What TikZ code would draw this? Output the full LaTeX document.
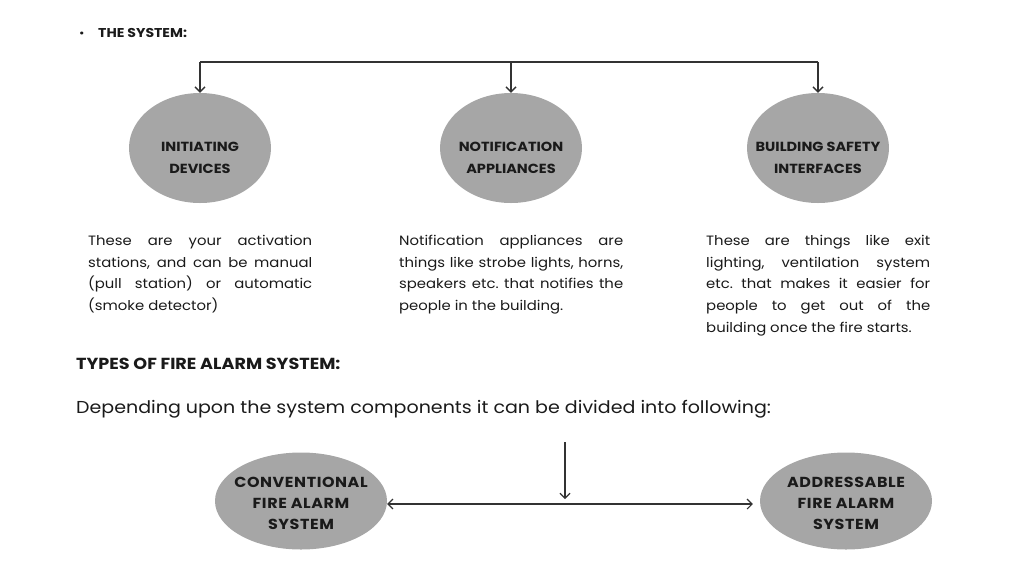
\documentclass[tikz,border=0pt]{standalone}
\usepackage{fontspec}
\setmainfont{Poppins}[FakeStretch=1.1]
\newfontfamily\spaced{Poppins}[FakeStretch=1.1,LetterSpace=4]
\usetikzlibrary{arrows.meta,shapes.geometric}
\definecolor{ellfill}{HTML}{A6A6A6}
\definecolor{ink}{HTML}{1A1A1A}
\definecolor{linec}{HTML}{333333}
\frenchspacing
\begin{document}
\begin{tikzpicture}[x=1pt,y=-1pt,
  ell/.style={ellipse, fill=ellfill, draw=none, inner sep=0pt,
    minimum width=142pt, minimum height=110pt},
  elltext/.style={align=center, text=ink, inner sep=0pt, yshift=-10pt,
    font=\bfseries\fontsize{13.2}{22}\selectfont},
  bell/.style={ellipse, fill=ellfill, draw=none, inner sep=0pt,
    minimum width=172pt, minimum height=97pt},
  belltext/.style={align=center, text=ink, inner sep=0pt, yshift=-2pt,
    font=\spaced\bfseries\fontsize{14.5}{21}\selectfont},
  para/.style={anchor=north west, text width=224pt, align=justify, inner sep=0pt,
    text=ink, font=\fontsize{13.5}{21.7}\selectfont},
  heading/.style={anchor=base west, inner sep=0pt, text=ink},
  conn/.style={draw=linec, line width=1.4pt},
  tipv/.style={-{Straight Barb[length=5pt,width=10pt]}},
  tipvv/.style={{Straight Barb[length=5pt,width=10pt]}-{Straight Barb[length=5pt,width=10pt]}}
]
\useasboundingbox (0,0) rectangle (1024,576);

% title
\node[heading, font=\fontsize{12}{14}\selectfont] (bul) at (79,37) {\textbullet};
\node[heading, font=\bfseries\fontsize{12.8}{14}\selectfont] (sys) at (98,37) {THE SYSTEM:};

% top ellipses
\node[ell, label={[elltext, name=l1]center:INITIATING\\DEVICES}] (e1) at (200,148) {};
\node[ell, label={[elltext, name=l2]center:NOTIFICATION\\APPLIANCES}] (e2) at (511,148) {};
\node[ell, label={[elltext, name=l3]center:BUILDING SAFETY\\INTERFACES}] (e3) at (818,148) {};

% top connector
\draw[conn] (e1.north) ++(0,-31) coordinate (t1) -- (t1 -| e3.north) coordinate (t3);
\draw[conn, tipv] (t1) -- (e1.north);
\draw[conn, tipv] (e2.north |- t1) -- (e2.north);
\draw[conn, tipv] (t3) -- (e3.north);

% paragraphs
\node[para] (p1) at (88,235) {These are your activation\linebreak stations, and can be manual\linebreak (pull station) or automatic\linebreak (smoke detector)};
\node[para] (p2) at (399,235) {Notification appliances are\linebreak things like strobe lights, horns,\linebreak speakers etc. that notifies the\linebreak people in the building.};
\node[para] (p3) at (706,235) {These are things like exit\linebreak lighting, ventilation system\linebreak etc. that makes it easier for\linebreak people to get out of the\linebreak building once the fire starts.};

% second section
\node[heading, font=\bfseries\fontsize{16}{18}\selectfont] (types) at (76,369) {TYPES OF FIRE ALARM SYSTEM:};
\node[heading, font=\fontsize{17.3}{20}\selectfont] (dep) at (76,413) {Depending upon the system components it can be divided into following:};

% bottom ellipses
\node[bell, label={[belltext, name=l4]center:CONVENTIONAL\\FIRE ALARM\\SYSTEM}] (c1) at (301,501) {};
\node[bell, label={[belltext, name=l5]center:ADDRESSABLE\\FIRE ALARM\\SYSTEM}] (c2) at (846,501) {};

\draw[conn, line width=1.1pt, tipvv] ([yshift=-3pt]c1.east) -- ([xshift=-7pt,yshift=-3pt]c2.west);
\coordinate (src) at (565,442);
\coordinate (hit) at (565,499);
\draw[conn, line width=1.1pt, tipv] (src) -- (hit);
\end{tikzpicture}
\end{document}
